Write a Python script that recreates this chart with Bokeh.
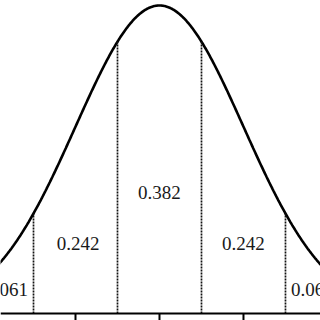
import numpy as np
from bokeh.plotting import figure
from bokeh.models import Span
from bokeh.core.properties import value
from bokeh.embed import file_html
from bokeh.resources import INLINE

# Data
boundaries = [-1.5, -0.5, 0.5, 1.5]          # z-values of dotted dividers
probabilities = ["0.061", "0.242", "0.382", "0.242", "0.061"]
tick_values = [-2, -1, 0, 1, 2]
mu, sigma = 0.0, 1.0

def pdf(z):
    return np.exp(-0.5 * ((z - mu) / sigma) ** 2) / (sigma * np.sqrt(2 * np.pi))

# label placement (positions, not data)
label_x = [-1.82, -0.97, 0.0, 1.0, 1.82]
label_y = [0.0311, 0.0907, 0.1567, 0.0907, 0.0311]

p = figure(width=320, height=320, output_backend="svg", toolbar_location=None,
           x_range=(-1.893, 1.917), y_range=(-0.00907, 0.4054),
           x_axis_type=None, y_axis_type=None, min_border=0)
p.outline_line_color = None
p.grid.visible = False
p.background_fill_color = "white"

xs = np.linspace(-2.5, 2.5, 600)
p.line(xs, pdf(xs), line_color="black", line_width=2.6)

# dotted dividers
p.segment(x0=boundaries, y0=[0] * len(boundaries), x1=boundaries,
          y1=[pdf(b) for b in boundaries],
          line_color="#111111", line_width=1.7, line_dash="2 1")

# axis baseline and ticks
p.add_layout(Span(location=0, dimension="width", line_color="black", line_width=2))
p.segment(x0=tick_values, y0=[0] * len(tick_values), x1=tick_values,
          y1=[-0.012] * len(tick_values), line_color="black", line_width=2)

p.text(x=label_x, y=label_y, text=probabilities, text_font=value("Liberation Serif"),
       text_font_size="19px", text_align="center", text_baseline="middle",
       text_color="#1a1a1a")

open("out.html", "w").write(file_html(p, INLINE))
